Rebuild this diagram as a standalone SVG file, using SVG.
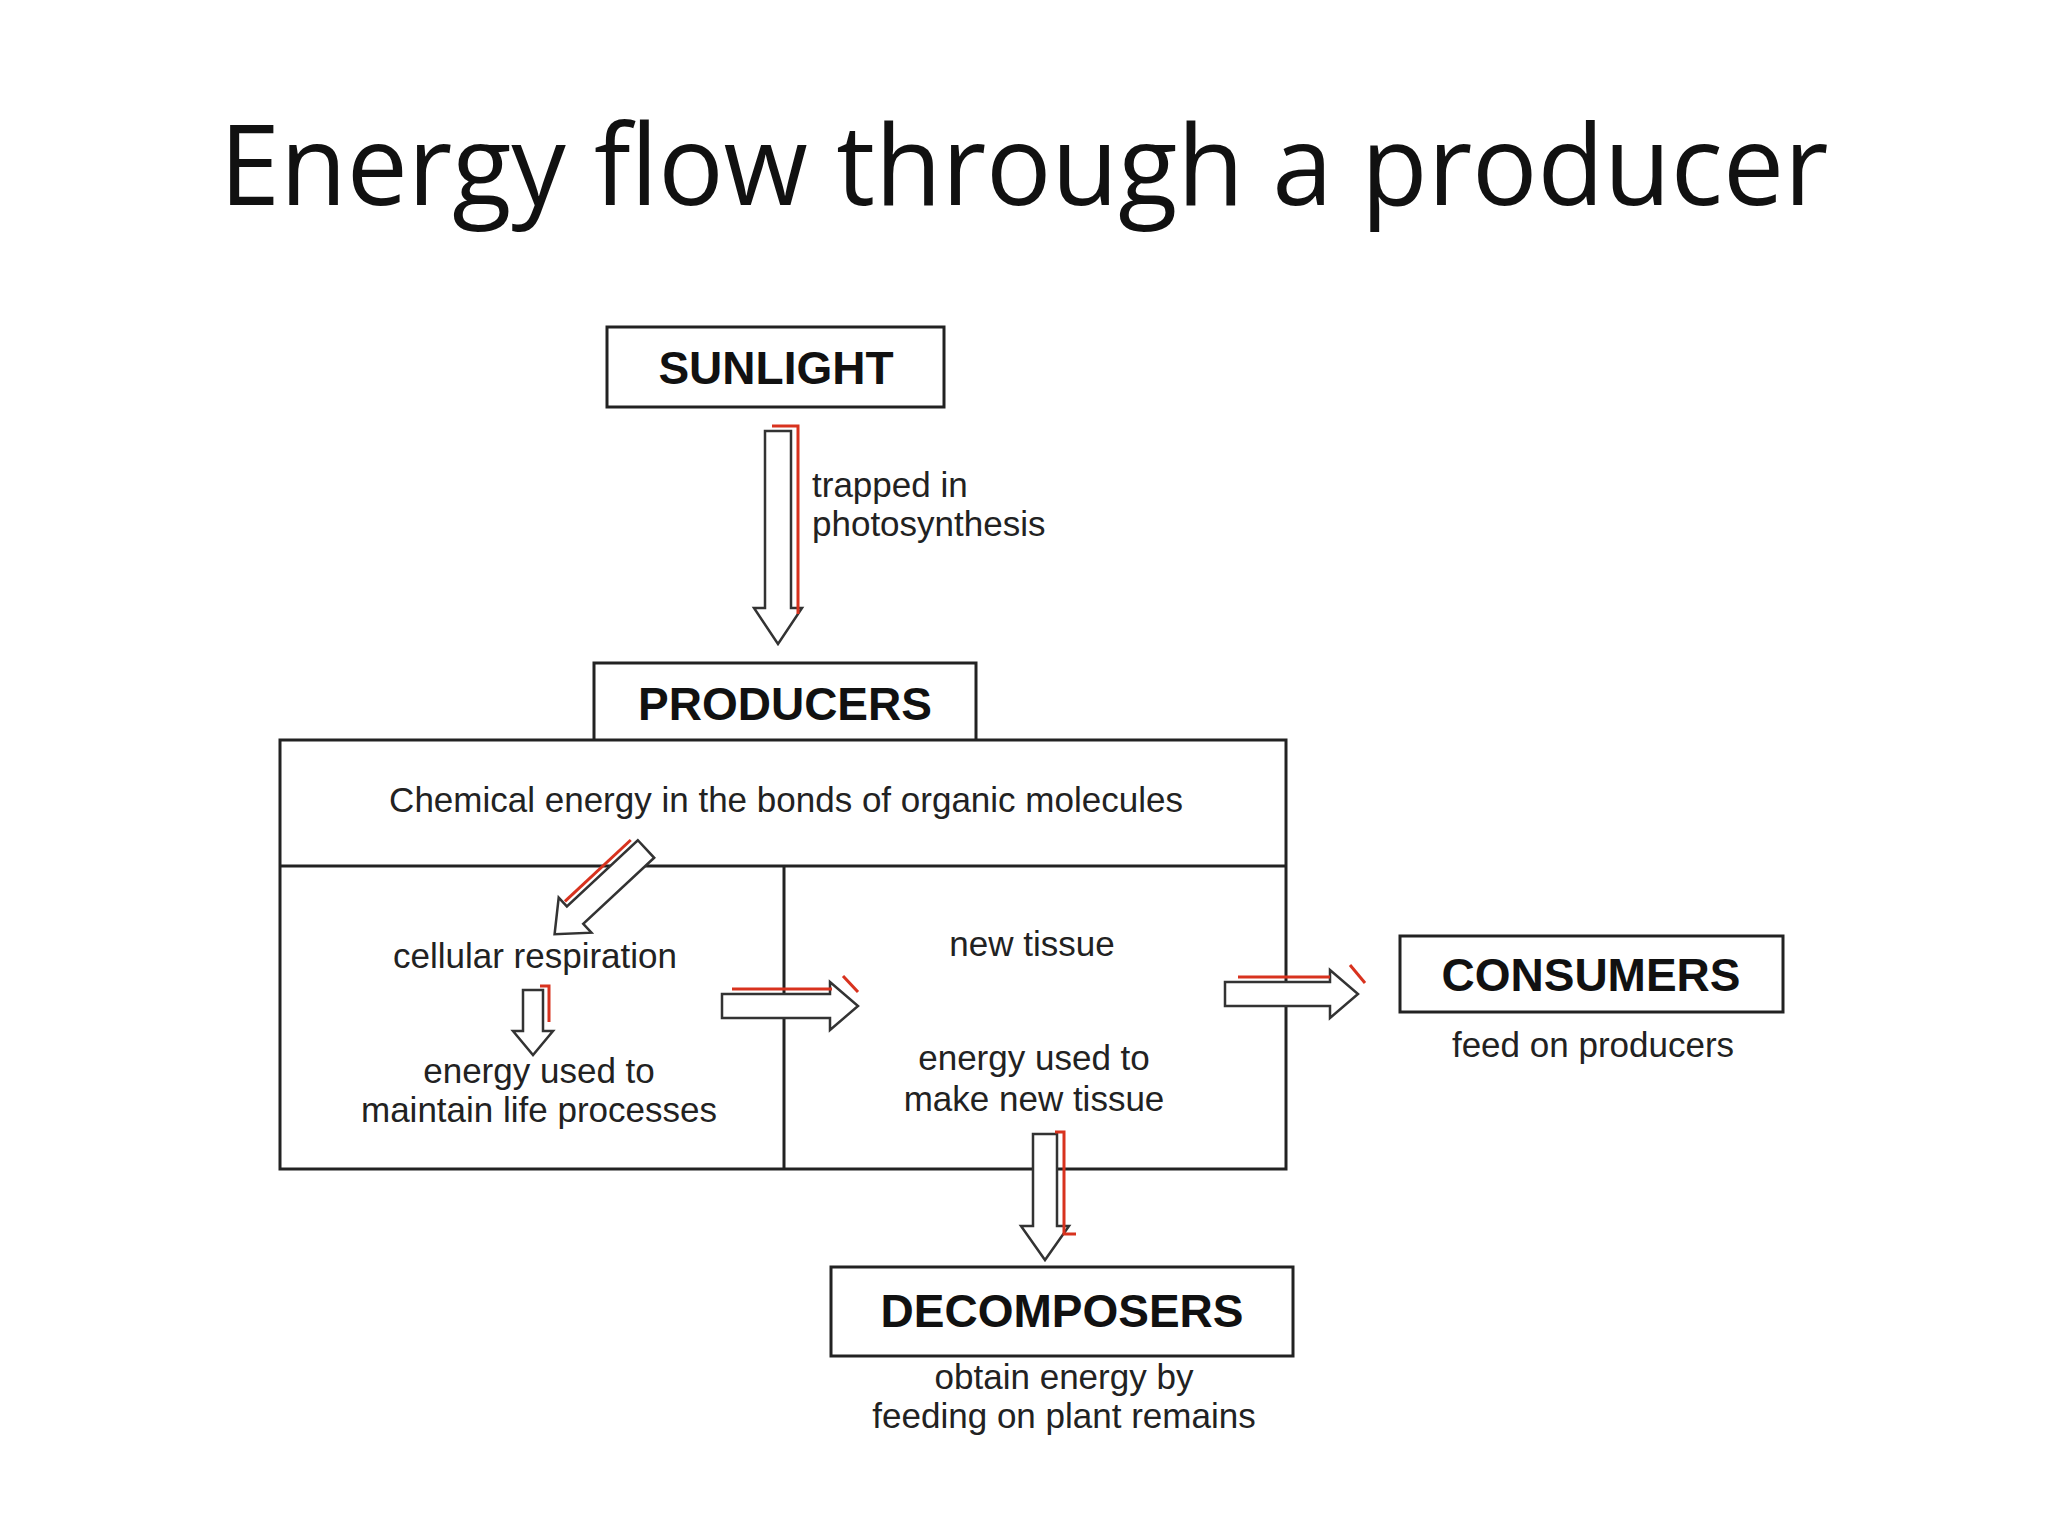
<svg xmlns="http://www.w3.org/2000/svg" width="2048" height="1536" viewBox="0 0 2048 1536">
<style>
.box{fill:#fff;stroke:#222;stroke-width:3}
.lbl{font-family:"Liberation Sans",Arial,sans-serif;font-weight:bold;font-size:46px;fill:#111;text-anchor:middle}
.t{font-family:"Liberation Sans",Arial,sans-serif;font-size:35px;fill:#222;text-anchor:middle}
.ts{font-family:"Liberation Sans",Arial,sans-serif;font-size:35px;fill:#222;text-anchor:start}
.arr{fill:#fff;stroke:#333;stroke-width:2.5;stroke-linejoin:miter}
.red{stroke:#d8321e;stroke-width:3;fill:none}
</style>
<rect width="2048" height="1536" fill="#fff"/>
<text x="1024" y="205" font-family="'Open Sans','Liberation Sans',sans-serif" font-size="112" fill="#111" text-anchor="middle" textLength="1609" lengthAdjust="spacingAndGlyphs">Energy flow through a producer</text>

<g id="sunlight"><rect class="box" x="607" y="327" width="337" height="80"/><text class="lbl" x="776" y="384">SUNLIGHT</text></g>
<g id="producers"><rect class="box" x="594" y="663" width="382" height="79"/><text class="lbl" x="785" y="720">PRODUCERS</text></g>
<g id="producer-box">
<rect class="box" x="280" y="740" width="1006" height="429"/>
<line x1="280" y1="866" x2="1286" y2="866" stroke="#222" stroke-width="3"/>
<line x1="784" y1="866" x2="784" y2="1169" stroke="#222" stroke-width="3"/>
<text class="t" x="786" y="812">Chemical energy in the bonds of organic molecules</text>
<text class="t" x="535" y="968">cellular respiration</text>
<text class="t" x="539" y="1083">energy used to</text>
<text class="t" x="539" y="1122">maintain life processes</text>
<text class="t" x="1032" y="956">new tissue</text>
<text class="t" x="1034" y="1070">energy used to</text>
<text class="t" x="1034" y="1111">make new tissue</text>
</g>
<g id="consumers"><rect class="box" x="1400" y="936" width="383" height="76"/><text class="lbl" x="1591" y="991">CONSUMERS</text><text class="t" x="1593" y="1057">feed on producers</text></g>
<g id="decomposers"><rect class="box" x="831" y="1267" width="462" height="89"/><text class="lbl" x="1062" y="1327">DECOMPOSERS</text><text class="t" x="1064" y="1389">obtain energy by</text><text class="t" x="1064" y="1428">feeding on plant remains</text></g>

<g id="connectors">
<polygon class="arr" points="765,431 791,431 791,608 802,608 778,644 754,608 765,608"/>
<polyline class="red" points="772,426 798,426 798,614"/>
<text class="ts" x="812" y="497">trapped in</text>
<text class="ts" x="812" y="536">photosynthesis</text>
<g transform="translate(646,849) rotate(137)">
<polygon class="arr" points="0,-12 97,-12 97,-24 125,0 97,24 97,12 0,12"/>
<line class="red" x1="5" y1="17" x2="95" y2="17"/>
</g>
<polygon class="arr" points="523,990 543,990 543,1031 553,1031 533,1055 513,1031 523,1031"/>
<polyline class="red" points="540,986 549,986 549,1022"/>
<polygon class="arr" points="722,994 830,994 830,982 858,1006 830,1030 830,1018 722,1018"/>
<line class="red" x1="732" y1="989" x2="832" y2="989"/>
<line class="red" x1="843" y1="976" x2="858" y2="992"/>
<polygon class="arr" points="1225,982 1330,982 1330,970 1358,994 1330,1018 1330,1006 1225,1006"/>
<line class="red" x1="1238" y1="977" x2="1330" y2="977"/>
<line class="red" x1="1350" y1="965" x2="1365" y2="983"/>
<polygon class="arr" points="1033,1134 1057,1134 1057,1226 1069,1226 1045,1260 1021,1226 1033,1226"/>
<polyline class="red" points="1055,1132 1064,1132 1064,1234 1076,1234"/>
</g>
</svg>
